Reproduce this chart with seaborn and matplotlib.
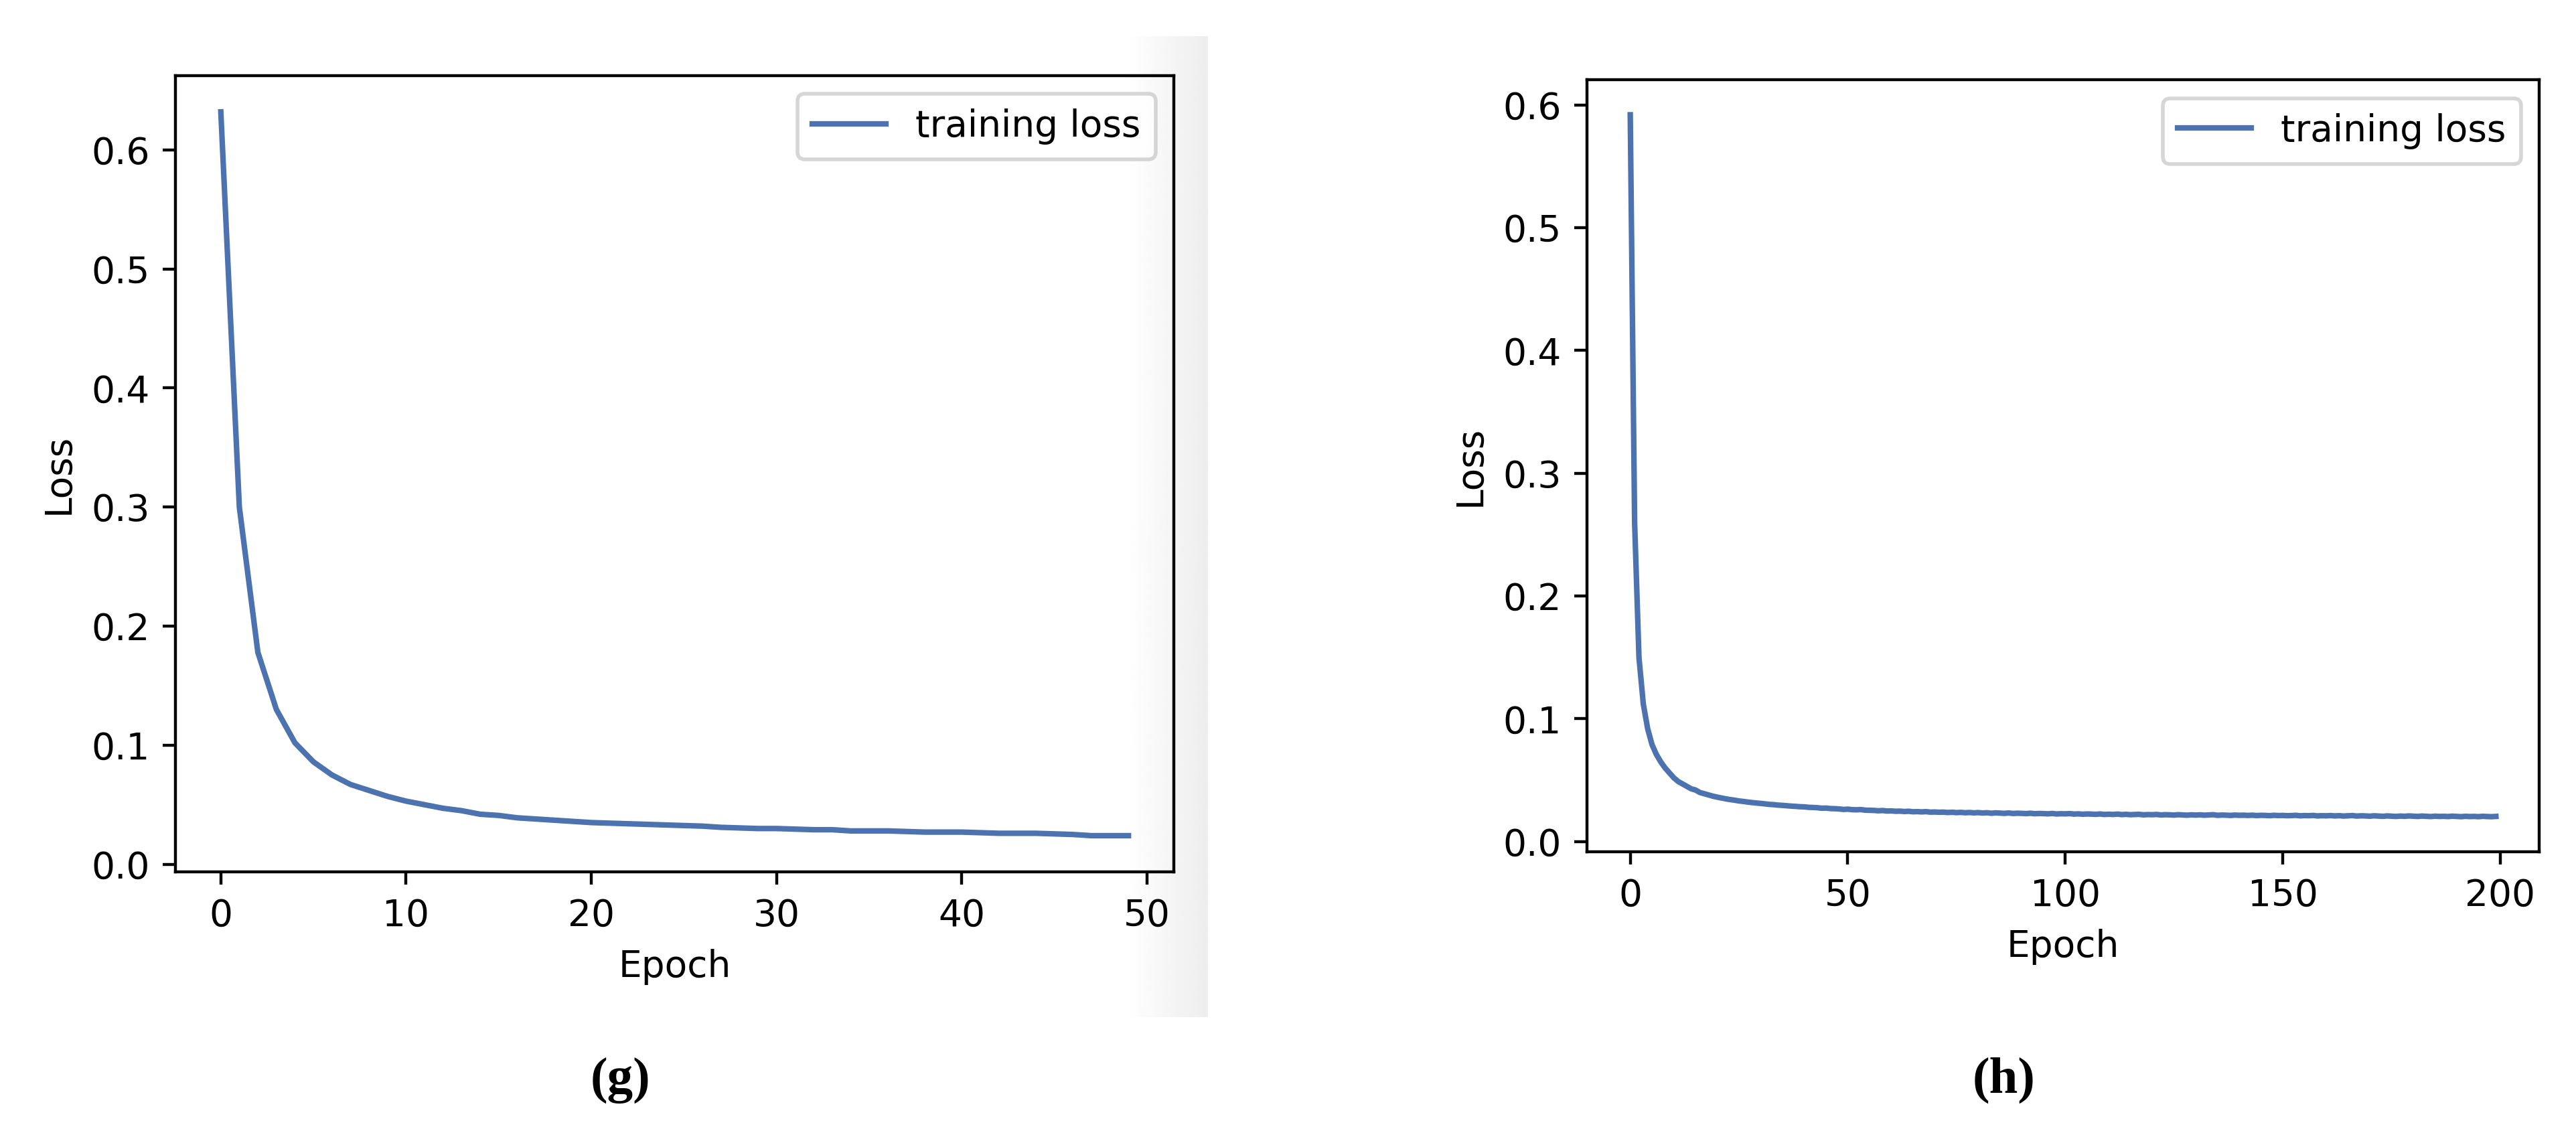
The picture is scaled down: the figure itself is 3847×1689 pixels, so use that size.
import numpy as np
import matplotlib
matplotlib.use("Agg")
import matplotlib.pyplot as plt
import seaborn as sns

# loss values
epochs_g = list(range(50))
loss_g = [0.632, 0.300, 0.178, 0.130, 0.102, 0.086, 0.075, 0.067, 0.062, 0.057,
          0.053, 0.050, 0.047, 0.045, 0.042, 0.041, 0.039, 0.038, 0.037, 0.036,
          0.035, 0.0345, 0.034, 0.0335, 0.033, 0.0325, 0.032, 0.031, 0.0305, 0.030,
          0.030, 0.0295, 0.029, 0.029, 0.028, 0.028, 0.028, 0.0275, 0.027, 0.027,
          0.027, 0.0265, 0.026, 0.026, 0.026, 0.0255, 0.025, 0.024, 0.024, 0.024]

epochs_h = list(range(200))
loss_h = [0.592, 0.260, 0.150, 0.112, 0.092, 0.079, 0.071, 0.065, 0.060, 0.056,
          0.052, 0.049, 0.047, 0.045, 0.043, 0.042, 0.040, 0.039, 0.038, 0.037,
          0.0362, 0.0355, 0.0348, 0.0342, 0.0337, 0.0331, 0.0327, 0.0322, 0.0318, 0.0314,
          0.0311, 0.0307, 0.0303, 0.0301, 0.0297, 0.0295, 0.0292, 0.0289, 0.0287, 0.0284,
          0.0283, 0.0279, 0.0278, 0.0276, 0.0272, 0.0273, 0.0269, 0.0268, 0.0266, 0.0262,
          0.0264, 0.0260, 0.0259, 0.0261, 0.0256, 0.0255, 0.0254, 0.0251, 0.0253, 0.0249,
          0.0250, 0.0247, 0.0248, 0.0245, 0.0247, 0.0243, 0.0244, 0.0242, 0.0244, 0.0240,
          0.0241, 0.0239, 0.0240, 0.0237, 0.0239, 0.0236, 0.0238, 0.0235, 0.0237, 0.0234,
          0.0236, 0.0233, 0.0235, 0.0231, 0.0234, 0.0232, 0.0230, 0.0233, 0.0229, 0.0231,
          0.0230, 0.0228, 0.0231, 0.0227, 0.0229, 0.0228, 0.0226, 0.0229, 0.0225, 0.0227,
          0.0226, 0.0228, 0.0224, 0.0226, 0.0223, 0.0225, 0.0224, 0.0222, 0.0225, 0.0221,
          0.0223, 0.0221, 0.0224, 0.0220, 0.0222, 0.0219, 0.0221, 0.0222, 0.0218, 0.0220,
          0.0219, 0.0221, 0.0217, 0.0219, 0.0218, 0.0216, 0.0219, 0.0217, 0.0215, 0.0218,
          0.0216, 0.0218, 0.0215, 0.0217, 0.0219, 0.0214, 0.0216, 0.0215, 0.0213, 0.0216,
          0.0214, 0.0215, 0.0213, 0.0215, 0.0212, 0.0214, 0.0213, 0.0211, 0.0214, 0.0212,
          0.0213, 0.0211, 0.0212, 0.0214, 0.0210, 0.0212, 0.0211, 0.0213, 0.0209, 0.0211,
          0.0210, 0.0212, 0.0209, 0.0211, 0.0208, 0.0210, 0.0212, 0.0208, 0.0210, 0.0209,
          0.0207, 0.0210, 0.0208, 0.0206, 0.0209, 0.0207, 0.0205, 0.0208, 0.0206, 0.0209,
          0.0207, 0.0205, 0.0208, 0.0206, 0.0204, 0.0207, 0.0205, 0.0206, 0.0204, 0.0207,
          0.0205, 0.0203, 0.0206, 0.0204, 0.0205, 0.0203, 0.0206, 0.0204, 0.0203, 0.0205]

series_label = "training loss"
panel_tags = ["(g)", "(h)"]

line_color = sns.color_palette("deep")[0]

W, H = 3847, 1689
DPI = 396
fig = plt.figure(figsize=(W / DPI, H / DPI), dpi=DPI)

# faint grey edge of the screenshot on the right of panel (g)
x0, x1, y0, y1 = 1680, 1804, 54, 1519
grad_ax = fig.add_axes([x0 / W, 1 - y1 / H, (x1 - x0) / W, (y1 - y0) / H], zorder=0)
grad = np.linspace(1.0, 0.93, 64)[None, :]
grad_ax.imshow(grad, aspect="auto", cmap="gray", vmin=0, vmax=1)
grad_ax.axis("off")

ax_g = fig.add_axes([262 / W, 1 - 1302 / H, (1753 - 262) / W, (1302 - 113) / H], zorder=1)
ax_h = fig.add_axes([2370 / W, 1 - 1272 / H, (3792 - 2370) / W, (1272 - 119) / H], zorder=1)

for ax, xs, ys in [(ax_g, epochs_g, loss_g), (ax_h, epochs_h, loss_h)]:
    ax.patch.set_alpha(0)
    sns.lineplot(x=xs, y=ys, ax=ax, color=line_color, linewidth=1.5, label=series_label)
    ax.set_xlabel("Epoch")
    ax.set_ylabel("Loss")
    ax.legend(loc="upper right")

ax_g.set_xticks([0, 10, 20, 30, 40, 50])
ax_h.set_xticks([0, 50, 100, 150, 200])

fig.text(926 / W, 1 - 1613 / H, panel_tags[0], ha="center", va="center",
         fontsize=14, fontweight="bold", family="Liberation Serif")
fig.text(2993 / W, 1 - 1613 / H, panel_tags[1], ha="center", va="center",
         fontsize=14, fontweight="bold", family="Liberation Serif")

fig.savefig("out.png", dpi=DPI, facecolor="white")
